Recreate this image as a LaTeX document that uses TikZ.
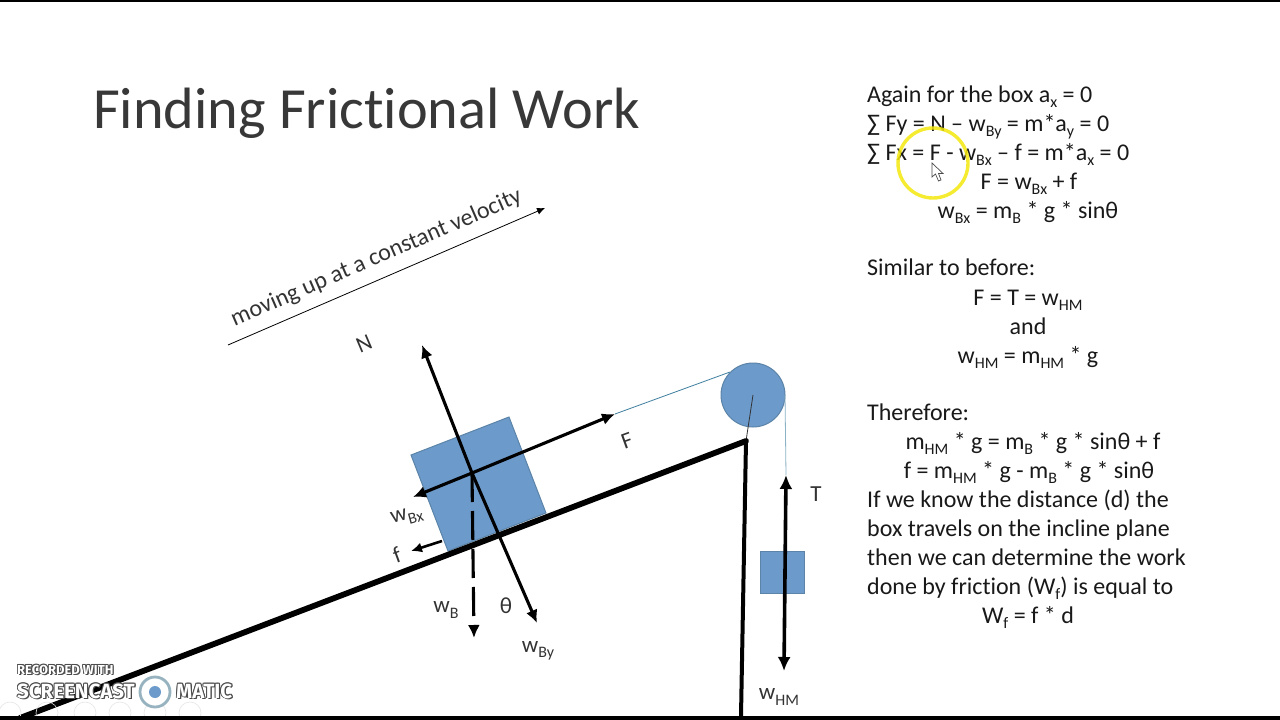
\documentclass[tikz,border=0pt]{standalone}
\usepackage{fontspec}
\setmainfont[Ligatures=NoCommon]{Carlito}
\newfontfamily\wmfont{Fira Sans}
\usetikzlibrary{arrows.meta}
\definecolor{boxblue}{HTML}{6B9ACB}
\definecolor{boxedge}{HTML}{5B84A8}
\definecolor{stringc}{HTML}{3F7F9F}
\newcommand{\bsub}[1]{\raisebox{-0.24em}{\fontsize{16}{16}\selectfont #1}}
\newcommand{\wmtext}[5]{% name, x, y, size, text
  \foreach \dx/\dy in {-1/0,1/0,0/-1,0/1,1/1,-1/1,1/-1,-1/-1,1.5/1.5}
    \node[wmsh,font=\wmfont\bfseries\fontsize{#4}{#4}\selectfont] at (#2+\dx*.8,#3+\dy*.8) {#5};
  \node[wm,font=\wmfont\bfseries\fontsize{#4}{#4}\selectfont] (#1) at (#2,#3) {#5};
}
\tikzset{
  body/.style={inner sep=0pt,font=\fontsize{24}{29}\selectfont,text=black!90},
  lft/.style={body,anchor=base west},
  mid/.style={body,anchor=base},
  lab/.style={inner sep=0pt,font=\fontsize{23}{27}\selectfont,text=black!80},
  solidbox/.style={fill=boxblue,draw=boxedge,line width=1pt},
  force/.style={line width=3.1pt,-{Latex[length=13pt,width=12pt]}},
  ramp/.style={line width=5.8pt,line cap=round},
  ropeline/.style={line width=.8pt,draw=stringc},
  wm/.style={inner sep=0pt,anchor=base west,text=white},
  wmsh/.style={inner sep=0pt,anchor=base west,text=black!70}
}
\begin{document}
\begin{tikzpicture}[x=1pt,y=-1pt]
\useasboundingbox (0,0) rectangle (1280,720);
\fill[white] (0,0) rectangle (1280,720);
\fill[black] (0,0) rectangle (1280,2);

\node[inner sep=0pt,anchor=base west,font=\fontsize{58.3}{60}\selectfont,text=black!78] (title) at (93,128) {Finding Frictional Work};

% moving arrow
\coordinate (ma) at (228,345);
\coordinate (mb) at (545,208);
\draw[line width=.8pt,-{Latex[length=8pt,width=7pt]}] (ma) -- (mb);
\node[lab,rotate=23.4,font=\fontsize{24}{28}\selectfont] (mtext) at (376.5,258) {moving up at a constant velocity};

% block
\coordinate (b1) at (411,455);
\coordinate (b2) at (509,417);
\coordinate (b3) at (546,513);
\coordinate (b4) at (448,551);
\filldraw[solidbox] (b1) -- (b2) -- (b3) -- (b4) -- cycle;

% pulley and strings
\node[solidbox,circle,minimum size=64pt,inner sep=0pt] (pulley) at (753,395) {};
\coordinate (apex) at (746,441);
\coordinate (foot) at (741,716);
\coordinate (rampstart) at (20,718);
\coordinate (ftip) at (615,414);
\coordinate (ptop) at (730,372);
\coordinate (pright) at (785,395);
\coordinate (ttip) at (786,475);
\coordinate (wtip) at (784,671);
\draw[ropeline] (ftip) -- (ptop);
\draw[ropeline,draw=stringc!60] (pright) -- (ttip);
\draw[line width=.8pt,black!80] (pulley.center) -- (apex);

% hanging mass
\node[solidbox,minimum width=44pt,minimum height=42pt,inner sep=0pt] (mass) at (782.5,572) {};

% incline
\draw[ramp] (rampstart) -- (apex);
\draw[line width=4pt] (apex) -- (foot);

% forces on block
\coordinate (c) at (472,473);
\coordinate (ntip) at (422,345);
\coordinate (bytip) at (537,623);
\coordinate (bxtip) at (413,497);
\coordinate (btip) at (474,638);
\coordinate (fa) at (442,541);
\coordinate (fb) at (411,551);
\draw[force] (c) -- (ntip);
\draw[force] (c) -- (bytip);
\draw[force] (c) -- (ftip);
\draw[force] (c) -- (bxtip);
\draw[force,dash pattern=on 29pt off 9pt] (c) -- (btip);
\draw[line width=2.6pt,-{Latex[length=11pt,width=10pt]}] (fa) -- (fb);

% T / wHM arrow
\draw[line width=3.6pt,{Latex[length=14pt,width=13pt]}-{Latex[length=14pt,width=13pt]}] (ttip) -- (wtip);

% labels
\node[lab,rotate=23] (lN) at (364,344) {N};
\node[lab,rotate=20] (lF) at (627,441) {F};
\node[lab,rotate=15] (lBx) at (407,517) {w\bsub{Bx}};
\node[lab,rotate=20] (lf) at (397,555) {f};
\node[lab] (lB) at (446,610) {w\bsub{B}};
\node[lab] (lth) at (506,606) {θ};
\node[lab] (lBy) at (538,651) {w\bsub{By}};
\node[lab] (lT) at (816,494) {T};
\node[lab] (lHM) at (779,697) {w\bsub{HM}};

% equations
\node[lft] (t1) at (867,102) {Again for the box a\bsub{x} = 0};
\node[lft] (t2) at (867,131) {∑ Fy = N – w\bsub{By} = m*a\bsub{y} = 0};
\node[lft] (t3) at (867,160) {∑ Fx = F - w\bsub{Bx} – f = m*a\bsub{x} = 0};
\node[mid] (t4) at (1029,189) {F = w\bsub{Bx} + f};
\node[mid] (t5) at (1028,218) {w\bsub{Bx} = m\bsub{B} * g * sinθ};
\node[lft] (t6) at (867,275) {Similar to before:};
\node[mid] (t7) at (1028,305) {F = T = w\bsub{HM}};
\node[mid] (t8) at (1028,334) {and};
\node[mid] (t9) at (1028,363) {w\bsub{HM} = m\bsub{HM} * g};
\node[lft] (t10) at (867,420) {Therefore:};
\node[mid] (t11) at (1033,449) {m\bsub{HM} * g = m\bsub{B} * g * sinθ + f};
\node[mid] (t12) at (1029,478) {f = m\bsub{HM} * g - m\bsub{B} * g * sinθ};
\node[lft] (t13) at (867,507) {If we know the distance (d) the};
\node[lft] (t14) at (867,536) {box travels on the incline plane};
\node[lft] (t15) at (867,565) {then we can determine the work};
\node[lft] (t16) at (867,594) {done by friction (W\bsub{f}) is equal to};
\node[mid] (t17) at (1028,623) {W\bsub{f} = f * d};

% cursor highlight
\draw[yellow!95!black,line width=3.4pt,opacity=.85] (933,163) circle[radius=35];
\filldraw[fill=white,draw=black!70,line width=.7pt] (932,163) -- (932,177) -- (935.5,174) -- (938.5,181) -- (941,180) -- (938.5,173.5) -- (943,173.5) -- cycle;

% recorder watermark
\foreach \px in {10,47,85,120,155,190}
  \draw[black!10,line width=.6pt] (\px,713) circle[radius=11];
\fill[black] (0,716) rectangle (1280,720);
\wmtext{r1}{17}{674}{13}{RECORDED WITH}
\wmtext{s1}{17}{698}{20.5}{SCREENCAST}
\wmtext{m1}{176}{698}{20.5}{MATIC}
\node[circle,draw=black!55!cyan!50,line width=2.8pt,fill=white,minimum size=30pt,inner sep=0pt] (logo) at (155,692) {};
\node[circle,fill=boxblue,minimum size=12pt,inner sep=0pt] (logoc) at (155,692) {};
\end{tikzpicture}
\end{document}
